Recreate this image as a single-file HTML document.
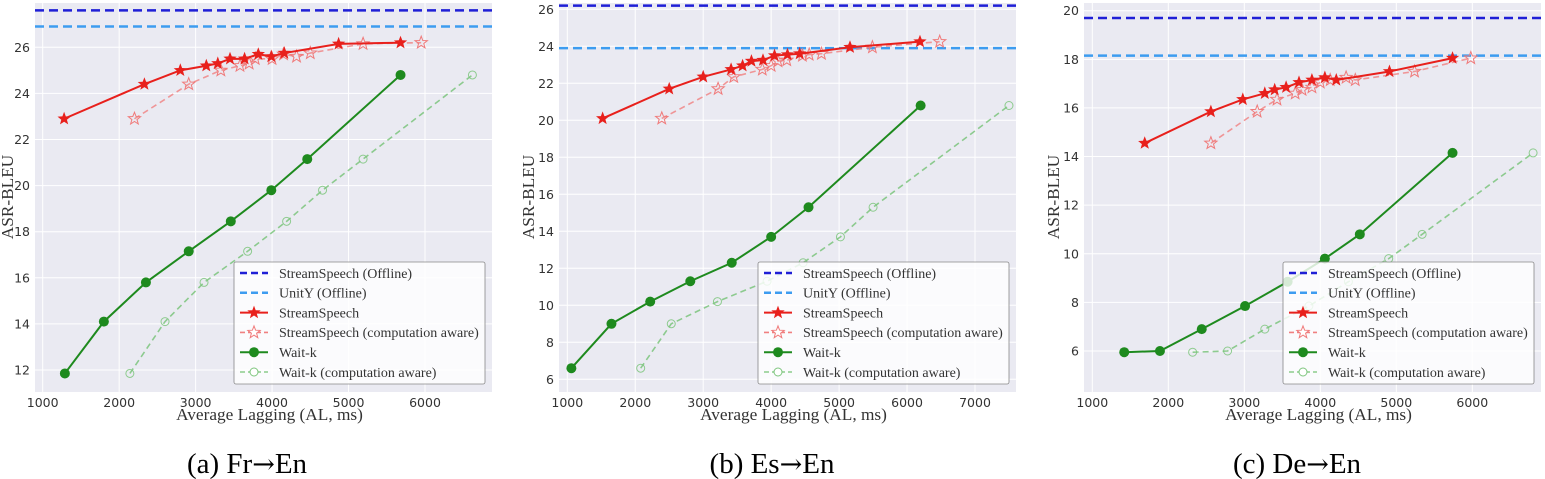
<!DOCTYPE html>
<html><head><meta charset="utf-8"><style>
html,body{margin:0;padding:0;background:#fff;width:1545px;height:479px;overflow:hidden}
svg{display:block}
.tick{font-family:"DejaVu Sans","Liberation Sans",sans-serif;font-size:12.5px;fill:#333}
.lab{font-family:"Liberation Serif",serif;font-size:17.3px;fill:#333}
.leg{font-family:"Liberation Serif",serif;font-size:14px;fill:#333}
.cap{font-family:"Liberation Serif","DejaVu Serif",serif;font-size:29px;fill:#000}
</style></head><body>
<svg id="fig" width="1545" height="479" xmlns="http://www.w3.org/2000/svg"></svg>
<script>
// Panel A (Fr->En)
const aOffline = [27.6, 26.9];
const aSSx = [1280,2330,2800,3140,3290,3450,3640,3820,3990,4160,4870,5680];
const aSSy = [22.9,24.4,25.0,25.2,25.3,25.5,25.5,25.7,25.6,25.75,26.15,26.2];
const aSSCAx = [2200,2910,3330,3580,3700,3780,4000,4150,4320,4500,5190,5950];
const aWKx = [1290,1800,2350,2910,3460,3990,4460,5680];
const aWKy = [11.85,14.1,15.8,17.15,18.45,19.8,21.15,24.8];
const aWKCAx = [2140,2600,3110,3680,4190,4660,5190,6620];
const aXTicks = [1000,2000,3000,4000,5000,6000];
const aYTicks = [12,14,16,18,20,22,24,26];
// Panel B (Es->En)
const bOffline = [26.2, 23.9];
const bSSx = [1520,2500,3000,3410,3580,3710,3880,4050,4240,4420,5160,6190];
const bSSy = [20.1,21.7,22.35,22.75,22.95,23.2,23.25,23.5,23.55,23.6,23.95,24.25];
const bSSCAx = [2390,3220,3450,3870,4000,4100,4230,4460,4560,4740,5490,6480];
const bWKx = [1060,1650,2220,2810,3420,4000,4550,6200];
const bWKy = [6.6,9.0,10.2,11.3,12.3,13.7,15.3,20.8];
const bWKCAx = [2080,2530,3210,3940,4470,5020,5500,7500];
const bXTicks = [1000,2000,3000,4000,5000,6000,7000];
const bYTicks = [6,8,10,12,14,16,18,20,22,24,26];
// Panel C (De->En)
const cOffline = [19.7, 18.15];
const cSSx = [1690,2560,2980,3270,3400,3550,3720,3890,4060,4210,4910,5740];
const cSSy = [14.55,15.85,16.35,16.6,16.75,16.85,17.05,17.15,17.25,17.15,17.5,18.05];
const cSSCAx = [2560,3170,3430,3670,3760,3890,4000,4130,4340,4460,5240,5980];
const cWKx = [1420,1890,2440,3010,3570,4060,4520,5740];
const cWKy = [5.95,6.0,6.9,7.85,8.85,9.8,10.8,14.15];
const cWKCAx = [2320,2780,3270,3850,4370,4900,5340,6800];
const cXTicks = [1000,2000,3000,4000,5000,6000];
const cYTicks = [6,8,10,12,14,16,18,20];

const NS="http://www.w3.org/2000/svg";
const fig=document.getElementById('fig');
function mk(tag,attrs,parent,text){const e=document.createElementNS(NS,tag);for(const k in attrs)e.setAttribute(k,attrs[k]);if(text!==undefined)e.textContent=text;(parent||fig).appendChild(e);return e;}
function starPts(cx,cy,R){const r=R*0.42;let p=[];for(let i=0;i<10;i++){const a=-Math.PI/2+i*Math.PI/5;const rr=i%2?r:R;p.push((cx+rr*Math.cos(a)).toFixed(1)+','+(cy+rr*Math.sin(a)).toFixed(1));}return p.join(' ');}

const panels=[
 {id:'a',L:35,R:492,T:3,B:392,x0:1000,px0:42.7,x1:6000,px1:425,y0:26,py0:47.3,y1:12,py1:370,off:aOffline,ssx:aSSx,ssy:aSSy,ssca:aSSCAx,wkx:aWKx,wky:aWKy,wkca:aWKCAx,xt:aXTicks,yt:aYTicks,legL:234,ylab:13,cap:['(a)  Fr','En'],capx:247},
 {id:'b',L:559,R:1016,T:3,B:392,x0:1000,px0:567.3,x1:7000,px1:975,y0:26,py0:9.3,y1:6,py1:379.3,off:bOffline,ssx:bSSx,ssy:bSSy,ssca:bSSCAx,wkx:bWKx,wky:bWKy,wkca:bWKCAx,xt:bXTicks,yt:bYTicks,legL:758,ylab:534,cap:['(b)  Es','En'],capx:772},
 {id:'c',L:1084,R:1541,T:3,B:392,x0:1000,px0:1092.3,x1:6000,px1:1472.3,y0:20,py0:10.7,y1:6,py1:351,off:cOffline,ssx:cSSx,ssy:cSSy,ssca:cSSCAx,wkx:cWKx,wky:cWKy,wkca:cWKCAx,xt:cXTicks,yt:cYTicks,legL:1283,ylab:1059,cap:['(c)  De','En'],capx:1297}
];

panels.forEach(P=>{
 const X=v=>P.px0+(v-P.x0)*(P.px1-P.px0)/(P.x1-P.x0);
 const Y=v=>P.py0+(v-P.y0)*(P.py1-P.py0)/(P.y1-P.y0);
 const g=mk('g',{});
 
 
 const bg=mk('rect',{x:P.L,y:P.T,width:P.R-P.L,height:P.B-P.T,fill:'#eaeaf2'},g);
 
 
 P.xt.forEach(t=>{
  const l=mk('line',{x1:X(t),x2:X(t),y1:P.T,y2:P.B,stroke:'#fff','stroke-width':1},g);
  
  
  const tx=mk('text',{x:X(t),y:P.B+15,'text-anchor':'middle',class:'tick'},g,String(t));
  
  
 });
 P.yt.forEach(t=>{
  const l=mk('line',{x1:P.L,x2:P.R,y1:Y(t),y2:Y(t),stroke:'#fff','stroke-width':1},g);
  
  
  const tx=mk('text',{x:P.L-5,y:Y(t)+4.5,'text-anchor':'end',class:'tick'},g,String(t));
  
  
 });
 const o1=mk('line',{x1:P.L,x2:P.R,y1:Y(P.off[0]),y2:Y(P.off[0]),stroke:'#1f1fd6','stroke-width':2.5,'stroke-dasharray':'9 5'},g);
 
 
 const o2=mk('line',{x1:P.L,x2:P.R,y1:Y(P.off[1]),y2:Y(P.off[1]),stroke:'#3d9cf0','stroke-width':2.5,'stroke-dasharray':'9 5'},g);
 
 
 const line=(xs,ys,st,dash,w,op,name)=>{const pl=mk('polyline',{points:xs.map((x,i)=>X(x)+','+Y(ys[i])).join(' '),fill:'none',stroke:st,'stroke-width':w,'stroke-dasharray':dash,opacity:op},g);
  
  };
 line(P.wkca,P.wky,'#6cbf6c','6 4',1.6,0.75,'waitk-ca-line');
 P.wkca.forEach((x,i)=>{const c=mk('circle',{cx:X(x),cy:Y(P.wky[i]),r:4,fill:'none',stroke:'#7dc57d','stroke-width':1,opacity:0.85},g);
  
  });
 line(P.ssca,P.ssy,'#f08080','6 4',1.6,0.8,'streamspeech-ca-line');
 P.ssca.forEach((x,i)=>{const s=mk('polygon',{points:starPts(X(x),Y(P.ssy[i]),6.5),fill:'none',stroke:'#f07a7a','stroke-width':1},g);
  
  });
 line(P.wkx,P.wky,'#1e8a1e','',2,1,'waitk-line');
 P.wkx.forEach((x,i)=>{const c=mk('circle',{cx:X(x),cy:Y(P.wky[i]),r:5,fill:'#1e8a1e'},g);
  
  });
 line(P.ssx,P.ssy,'#e8201c','',2,1,'streamspeech-line');
 P.ssx.forEach((x,i)=>{const s=mk('polygon',{points:starPts(X(x),Y(P.ssy[i]),7),fill:'#e8201c'},g);
  
  });
 const lg=mk('g',{},g);
 
 
 mk('rect',{x:P.legL,y:262,width:251,height:122,rx:2,fill:'#fff','fill-opacity':0.82,stroke:'#888','stroke-width':0.8},lg);
 const labels=['StreamSpeech (Offline)','UnitY (Offline)','StreamSpeech','StreamSpeech (computation aware)','Wait-k','Wait-k (computation aware)'];
 labels.forEach((t,i)=>{
  const yy=273+i*19.8, x1=P.legL+6, x2=P.legL+34, xm=(x1+x2)/2;
  if(i==0) mk('line',{x1,x2,y1:yy,y2:yy,stroke:'#1f1fd6','stroke-width':2.5,'stroke-dasharray':'7 4'},lg);
  if(i==1) mk('line',{x1,x2,y1:yy,y2:yy,stroke:'#3d9cf0','stroke-width':2.5,'stroke-dasharray':'7 4'},lg);
  if(i==2){mk('line',{x1,x2,y1:yy,y2:yy,stroke:'#e8201c','stroke-width':2},lg);mk('polygon',{points:starPts(xm,yy,7),fill:'#e8201c'},lg);}
  if(i==3){mk('line',{x1,x2,y1:yy,y2:yy,stroke:'#f08080','stroke-width':1.6,'stroke-dasharray':'5 3'},lg);mk('polygon',{points:starPts(xm,yy,6.5),fill:'#fff',stroke:'#f07a7a','stroke-width':1},lg);}
  if(i==4){mk('line',{x1,x2,y1:yy,y2:yy,stroke:'#1e8a1e','stroke-width':2},lg);mk('circle',{cx:xm,cy:yy,r:5,fill:'#1e8a1e'},lg);}
  if(i==5){mk('line',{x1,x2,y1:yy,y2:yy,stroke:'#8ccc8c','stroke-width':1.6,'stroke-dasharray':'5 3'},lg);mk('circle',{cx:xm,cy:yy,r:4,fill:'#fff',stroke:'#7dc57d','stroke-width':1},lg);}
  const tx=mk('text',{x:P.legL+45,y:yy+4.8,class:'leg'},lg,t);
  
  
 });
 const xl=mk('text',{x:(P.L+P.R)/2+6,y:420,'text-anchor':'middle',class:'lab'},g,'Average Lagging (AL, ms)');
 
 
 const yl=mk('text',{x:0,y:0,'text-anchor':'middle',class:'lab',transform:`translate(${P.ylab},197) rotate(-90)`},g,'ASR-BLEU');
 
 
 const cp=mk('text',{x:P.capx,y:473,'text-anchor':'middle',class:'cap'},g);
 
 
 mk('tspan',{},cp,P.cap[0]);
 mk('tspan',{'font-family':'"DejaVu Serif",serif','font-size':'27px'},cp,'\u2192');
 mk('tspan',{},cp,P.cap[1]);
});
</script>
</body></html>
